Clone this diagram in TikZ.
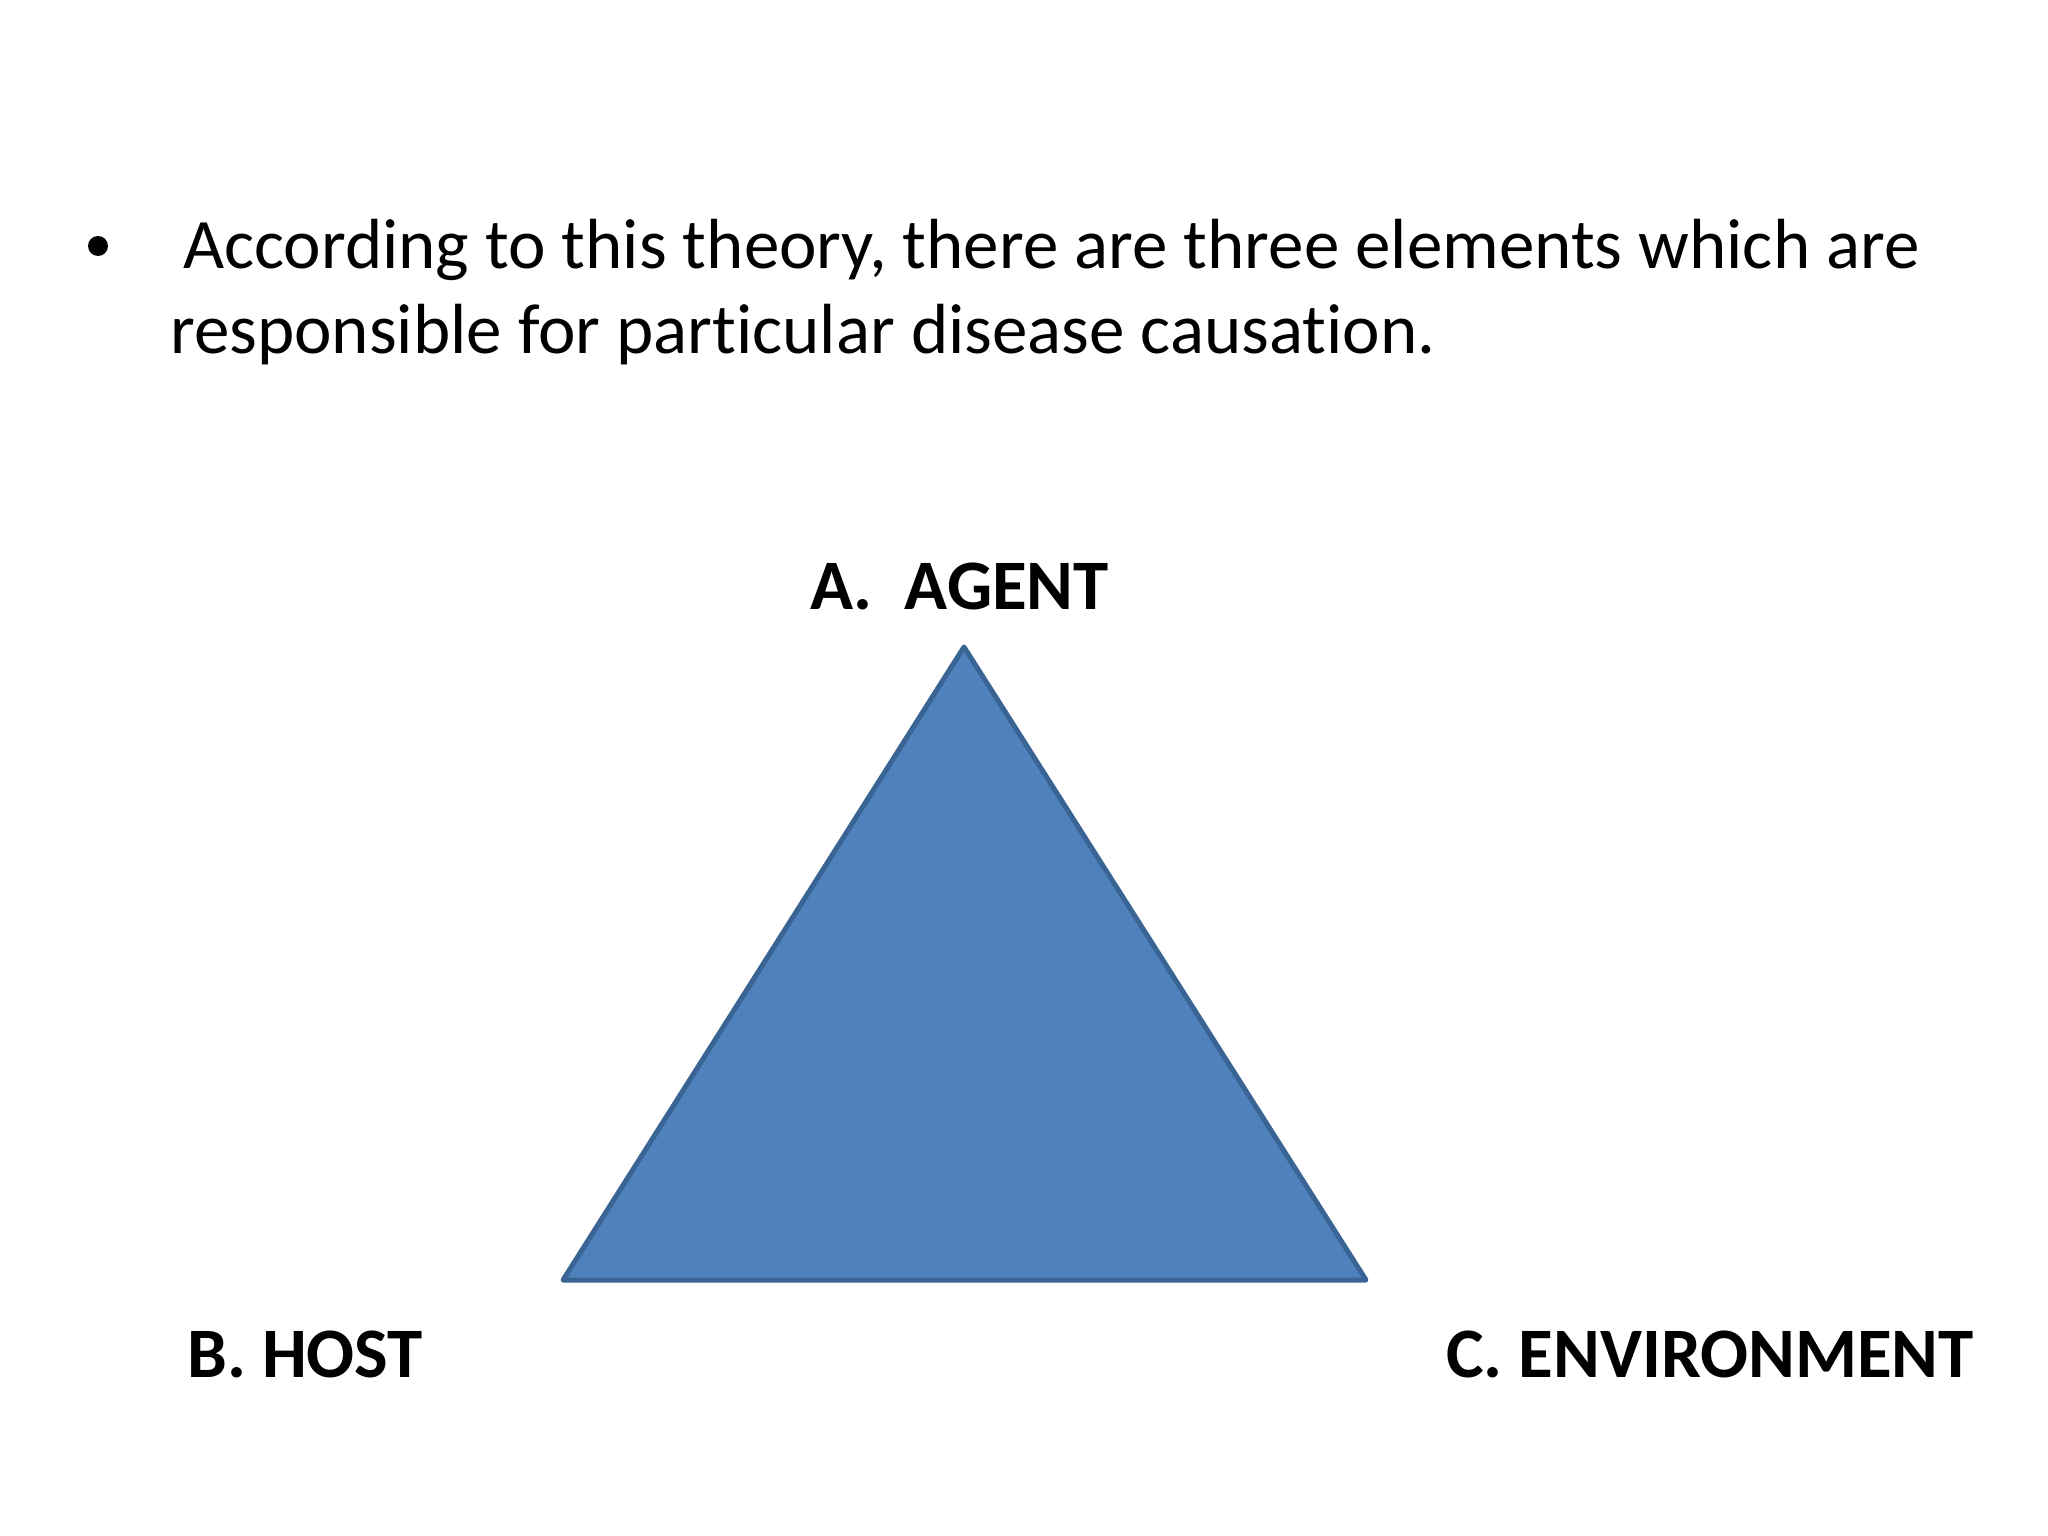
\documentclass[tikz,border=0pt]{standalone}
\usepackage{fontspec}
\setmainfont{Carlito}[Ligatures=NoCommon]
\definecolor{trifill}{HTML}{4F81BD}
\definecolor{triline}{HTML}{3A6494}
\begin{document}
\begin{tikzpicture}[x=1pt,y=-1pt,
  body/.style={inner sep=0pt,anchor=base west,font=\fontsize{71}{85}\selectfont},
  lab/.style={inner sep=0pt,anchor=base west,font=\fontsize{71}{80}\selectfont\bfseries},
  tri/.style={fill=trifill,draw=triline,line width=5pt,line join=round}]
\useasboundingbox (0,0) rectangle (2048,1536);
\fill[white] (0,0) rectangle (2048,1536);
\node[circle,fill=black,inner sep=0pt,minimum size=20pt] (bul) at (98,246) {};
\node[body] (txt1) at (183,268) {According to this theory, there are three elements which are};
\node[body] (txt2) at (170,353) {responsible for particular disease causation.};
\coordinate (apex) at (964,647);
\coordinate (bl) at (563,1280);
\coordinate (br) at (1366,1280);
\draw[tri] (apex) -- (bl) -- (br) -- cycle;
\node[lab] (agent) at (810,609) {A.\ \ AGENT};
\node[lab] (host) at (187,1377) {B. HOST};
\node[lab] (env) at (1446,1377) {C. ENVIRONMENT};
\end{tikzpicture}
\end{document}
